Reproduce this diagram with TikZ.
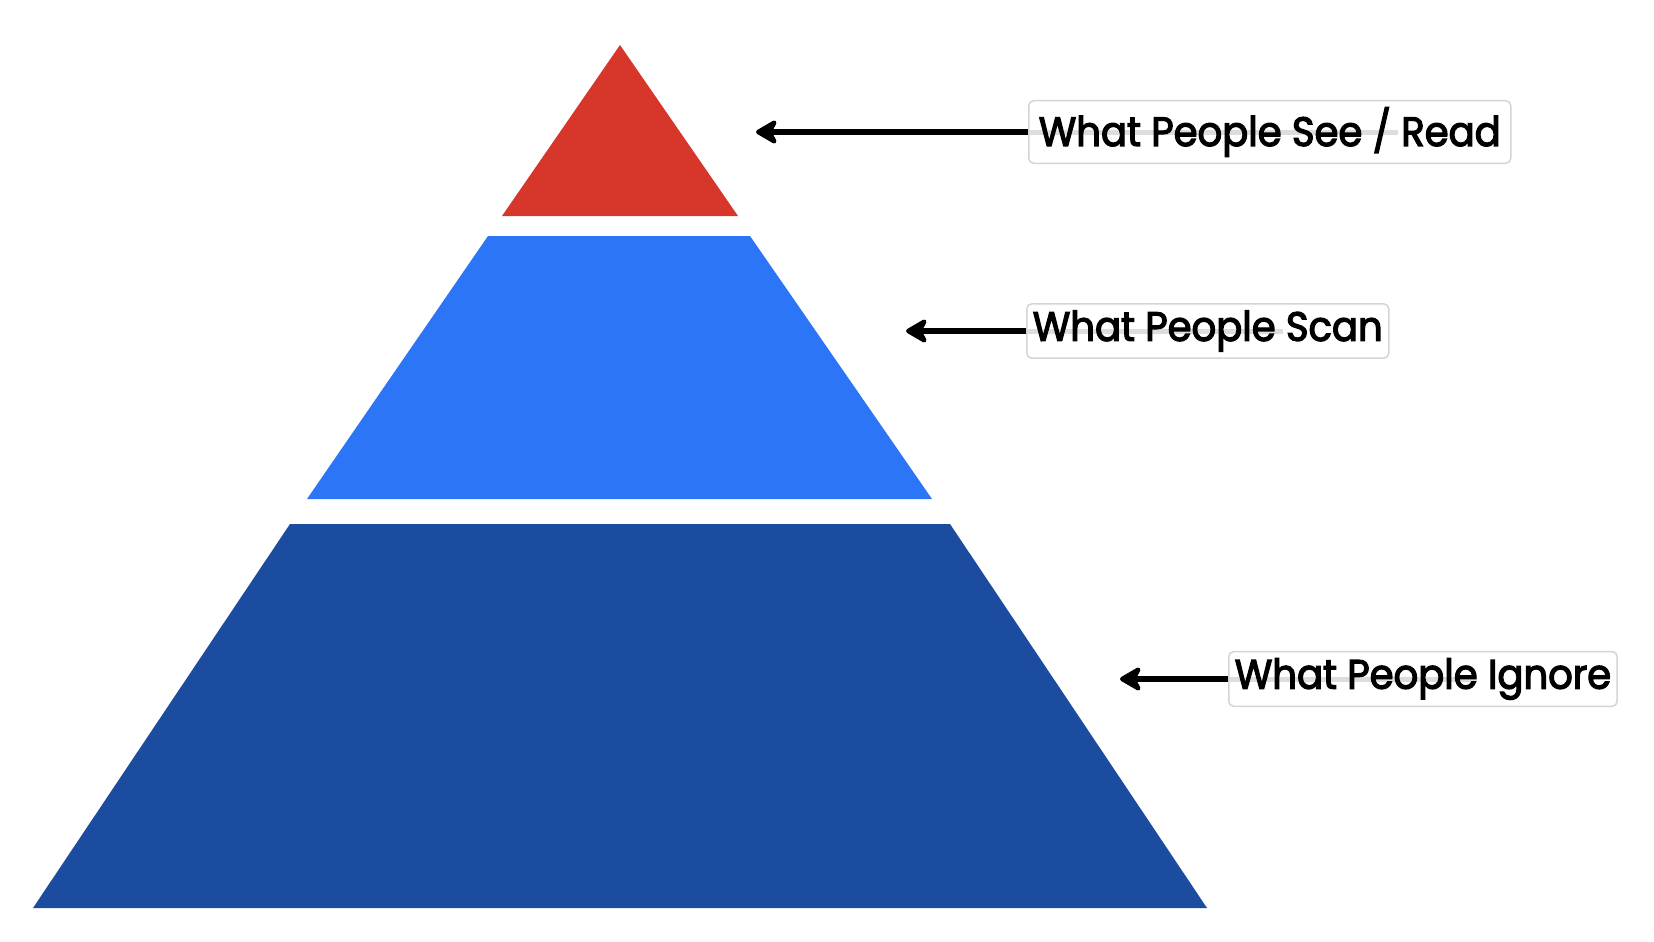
\documentclass[tikz,border=0pt]{standalone}
\usepackage{fontspec}
\newfontfamily\labelfont[FakeStretch=0.94,FakeBold=3]{Poppins}
\usetikzlibrary{arrows.meta,backgrounds}

\definecolor{toptier}{HTML}{D7362A}
\definecolor{midtier}{HTML}{2C75F6}
\definecolor{basetier}{HTML}{1B4C9F}
\definecolor{boxline}{HTML}{D4D4D4}
\definecolor{ghostline}{HTML}{DDDDDD}

\tikzset{
    tierlabel/.style={draw=boxline, line width=0.75pt, rounded corners=2.5pt,
        minimum height=26pt, inner xsep=3pt, anchor=west,
        font=\labelfont\fontsize{20.5}{24}\selectfont},
    pointer/.style={line width=2.6pt, -{Stealth[length=13pt,width=15pt,inset=4pt,round]}},
    ghost/.style={ghostline, line width=2.5pt}
}

\begin{document}
\begin{tikzpicture}[x=0.5pt, y=-0.5pt]
        \useasboundingbox (0,0) rectangle (1654,942);

        % draw the tiers of the pyramid
        \fill[toptier] (620,45) -- (738,216) -- (502,216) -- cycle;
        \fill[midtier] (488,236) -- (750,236) -- (932,499) -- (307,499) -- cycle;
        \fill[basetier] (290,524) -- (950,524) -- (1207,908) -- (33,908) -- cycle;

        % the labels
        \node[tierlabel, minimum width=241pt] (see) at (1028,132) {What People See / Read};
        \node[tierlabel, minimum width=180.5pt] (scan) at (1026,331) {What People Scan};
        \node[tierlabel, minimum width=193.5pt] (ignore) at (1228,679) {What People Ignore};

        % the points the arrows go to
        \coordinate (seetip) at (756,132);
        \coordinate (scantip) at (906,331);
        \coordinate (ignoretip) at (1120,679);

        % draw the arrows
        \draw[pointer] (see.west) -- (seetip);
        \draw[pointer] (scan.west) -- (scantip);
        \draw[pointer] (ignore.west) -- (ignoretip);

        % faint lines behind the texts
        \begin{scope}[on background layer]
            \draw[ghost] (see.west) -- ++(370,0);
            \draw[ghost] (scan.west) -- ++(257,0);
            \draw[ghost] (ignore.west) -- ++(249,0);
        \end{scope}

    \end{tikzpicture}
\end{document}
